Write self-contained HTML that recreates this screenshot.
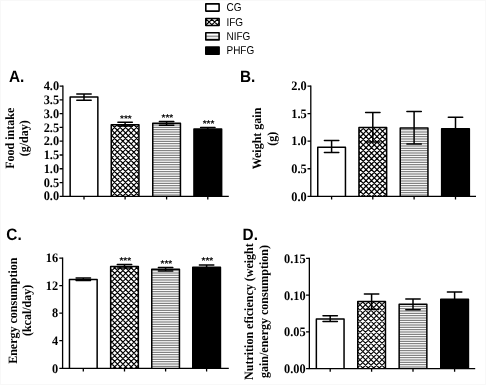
<!DOCTYPE html>
<html lang="en"><head><meta charset="utf-8"><title>Figure</title>
<style>html,body{margin:0;padding:0;background:#fff}body{width:486px;height:385px;overflow:hidden}svg{display:block}text{text-rendering:geometricPrecision}.tk{font-family:"Liberation Serif", "DejaVu Serif", serif;font-weight:bold;font-size:13px;fill:#000}.yl{font-family:"Liberation Serif", "DejaVu Serif", serif;font-weight:bold;font-size:12px;fill:#000}.pl{font-family:"Liberation Sans", "DejaVu Sans", sans-serif;font-weight:bold;font-size:16.5px;fill:#000}.lg{font-family:"Liberation Sans", "DejaVu Sans", sans-serif;font-size:11.4px;fill:#000}.st{font-family:"Liberation Sans", "DejaVu Sans", sans-serif;font-weight:bold;font-size:10px;fill:#000}</style></head><body>
<svg width="486" height="385" viewBox="0 0 486 385">
<rect width="486" height="385" fill="#fff"/>
<rect x="0.5" y="0.5" width="485" height="384" fill="none" stroke="#f8f8f8" stroke-width="1"/>
<rect x="205.8" y="3.9" width="13.30" height="7.20" fill="#fff" stroke="#000" stroke-width="1.6" stroke-linejoin="round"/>
<clipPath id="cl1"><rect x="205.80" y="18.50" width="13.30" height="7.00"/></clipPath>
<rect x="205.80" y="18.50" width="13.30" height="7.00" fill="#fff"/>
<path d="M198.15,16.50L209.15,27.50M203.65,16.50L214.65,27.50M209.15,16.50L220.15,27.50M214.65,16.50L225.65,27.50M209.15,16.50L198.15,27.50M214.65,16.50L203.65,27.50M220.15,16.50L209.15,27.50M225.65,16.50L214.65,27.50" stroke="#000" stroke-width="1.2" fill="none" clip-path="url(#cl1)"/>
<rect x="205.8" y="18.5" width="13.30" height="7.00" fill="none" stroke="#000" stroke-width="1.6" stroke-linejoin="round"/>
<rect x="205.8" y="32.7" width="13.30" height="7.20" fill="#fff"/>
<rect x="205.8" y="35.7" width="13.30" height="0.9" fill="#555"/>
<rect x="205.8" y="37.6" width="13.30" height="1.6" fill="#cfcfcf"/>
<rect x="205.8" y="32.7" width="13.30" height="7.20" fill="none" stroke="#000" stroke-width="1.6" stroke-linejoin="round"/>
<rect x="205.8" y="47.1" width="13.30" height="7.20" fill="#000" stroke="#000" stroke-width="1.6" stroke-linejoin="round"/>
<text transform="translate(226.5,11.1) scale(0.875,1)" class="lg">CG</text>
<text transform="translate(226.5,25.5) scale(0.875,1)" class="lg">IFG</text>
<text transform="translate(226.5,39.9) scale(0.875,1)" class="lg">NIFG</text>
<text transform="translate(226.5,54.3) scale(0.875,1)" class="lg">PHFG</text>
<text transform="translate(8.9,81.8) scale(0.93,1)" class="pl">A.</text>
<text transform="translate(240.0,81.9) scale(0.93,1)" class="pl">B.</text>
<text transform="translate(6.3,239.6) scale(0.93,1)" class="pl">C.</text>
<text transform="translate(242.6,239.5) scale(0.93,1)" class="pl">D.</text>
<g id="A">
<path d="M70.15,196.30V97.12H97.85V196.30" fill="#fff" stroke="#000" stroke-width="1.5" stroke-linejoin="round"/>
<clipPath id="cl2"><rect x="111.25" y="124.67" width="27.70" height="71.63"/></clipPath>
<rect x="111.25" y="124.67" width="27.70" height="71.63" fill="#fff"/>
<path d="M38.37,122.67L114.00,198.30M43.87,122.67L119.50,198.30M49.37,122.67L125.00,198.30M54.87,122.67L130.50,198.30M60.37,122.67L136.00,198.30M65.87,122.67L141.50,198.30M71.37,122.67L147.00,198.30M76.87,122.67L152.50,198.30M82.37,122.67L158.00,198.30M87.87,122.67L163.50,198.30M93.37,122.67L169.00,198.30M98.87,122.67L174.50,198.30M104.37,122.67L180.00,198.30M109.87,122.67L185.50,198.30M115.37,122.67L191.00,198.30M120.87,122.67L196.50,198.30M126.37,122.67L202.00,198.30M131.87,122.67L207.50,198.30M113.83,122.67L38.20,198.30M119.33,122.67L43.70,198.30M124.83,122.67L49.20,198.30M130.33,122.67L54.70,198.30M135.83,122.67L60.20,198.30M141.33,122.67L65.70,198.30M146.83,122.67L71.20,198.30M152.33,122.67L76.70,198.30M157.83,122.67L82.20,198.30M163.33,122.67L87.70,198.30M168.83,122.67L93.20,198.30M174.33,122.67L98.70,198.30M179.83,122.67L104.20,198.30M185.33,122.67L109.70,198.30M190.83,122.67L115.20,198.30M196.33,122.67L120.70,198.30M201.83,122.67L126.20,198.30M207.33,122.67L131.70,198.30" stroke="#000" stroke-width="1.2" fill="none" clip-path="url(#cl2)"/>
<path d="M111.25,196.30V124.67H138.95V196.30" fill="none" stroke="#000" stroke-width="1.5" stroke-linejoin="round"/>
<rect x="152.75" y="123.29" width="27.70" height="73.01" fill="#fff"/>
<path d="M152.75,123.29H180.45V124.00H152.75ZM152.75,130.00H180.45V131.00H152.75ZM152.75,137.00H180.45V138.00H152.75ZM152.75,144.00H180.45V145.00H152.75ZM152.75,151.00H180.45V152.00H152.75ZM152.75,158.00H180.45V159.00H152.75ZM152.75,165.00H180.45V166.00H152.75ZM152.75,172.00H180.45V173.00H152.75ZM152.75,179.00H180.45V180.00H152.75ZM152.75,186.00H180.45V187.00H152.75ZM152.75,193.00H180.45V194.00H152.75Z" fill="#e6e6e6"/>
<path d="M152.75,124.00H180.45V125.00H152.75ZM152.75,125.00H180.45V126.00H152.75ZM152.75,131.00H180.45V132.00H152.75ZM152.75,132.00H180.45V133.00H152.75ZM152.75,138.00H180.45V139.00H152.75ZM152.75,139.00H180.45V140.00H152.75ZM152.75,145.00H180.45V146.00H152.75ZM152.75,146.00H180.45V147.00H152.75ZM152.75,152.00H180.45V153.00H152.75ZM152.75,153.00H180.45V154.00H152.75ZM152.75,159.00H180.45V160.00H152.75ZM152.75,160.00H180.45V161.00H152.75ZM152.75,166.00H180.45V167.00H152.75ZM152.75,167.00H180.45V168.00H152.75ZM152.75,173.00H180.45V174.00H152.75ZM152.75,174.00H180.45V175.00H152.75ZM152.75,180.00H180.45V181.00H152.75ZM152.75,181.00H180.45V182.00H152.75ZM152.75,187.00H180.45V188.00H152.75ZM152.75,188.00H180.45V189.00H152.75ZM152.75,194.00H180.45V195.00H152.75ZM152.75,195.00H180.45V196.00H152.75Z" fill="#b2b2b2"/>
<path d="M152.75,126.00H180.45V127.00H152.75ZM152.75,133.00H180.45V134.00H152.75ZM152.75,140.00H180.45V141.00H152.75ZM152.75,147.00H180.45V148.00H152.75ZM152.75,154.00H180.45V155.00H152.75ZM152.75,161.00H180.45V162.00H152.75ZM152.75,168.00H180.45V169.00H152.75ZM152.75,175.00H180.45V176.00H152.75ZM152.75,182.00H180.45V183.00H152.75ZM152.75,189.00H180.45V190.00H152.75ZM152.75,196.00H180.45V196.30H152.75Z" fill="#e4e4e4"/>
<path d="M152.75,127.00H180.45V128.00H152.75ZM152.75,134.00H180.45V135.00H152.75ZM152.75,141.00H180.45V142.00H152.75ZM152.75,148.00H180.45V149.00H152.75ZM152.75,155.00H180.45V156.00H152.75ZM152.75,162.00H180.45V163.00H152.75ZM152.75,169.00H180.45V170.00H152.75ZM152.75,176.00H180.45V177.00H152.75ZM152.75,183.00H180.45V184.00H152.75ZM152.75,190.00H180.45V191.00H152.75Z" fill="#828282"/>
<path d="M152.75,128.00H180.45V129.00H152.75ZM152.75,135.00H180.45V136.00H152.75ZM152.75,142.00H180.45V143.00H152.75ZM152.75,149.00H180.45V150.00H152.75ZM152.75,156.00H180.45V157.00H152.75ZM152.75,163.00H180.45V164.00H152.75ZM152.75,170.00H180.45V171.00H152.75ZM152.75,177.00H180.45V178.00H152.75ZM152.75,184.00H180.45V185.00H152.75ZM152.75,191.00H180.45V192.00H152.75Z" fill="#fafafa"/>
<path d="M152.75,129.00H180.45V130.00H152.75ZM152.75,136.00H180.45V137.00H152.75ZM152.75,143.00H180.45V144.00H152.75ZM152.75,150.00H180.45V151.00H152.75ZM152.75,157.00H180.45V158.00H152.75ZM152.75,164.00H180.45V165.00H152.75ZM152.75,171.00H180.45V172.00H152.75ZM152.75,178.00H180.45V179.00H152.75ZM152.75,185.00H180.45V186.00H152.75ZM152.75,192.00H180.45V193.00H152.75Z" fill="#848484"/>
<path d="M152.75,196.30V123.29H180.45V196.30" fill="none" stroke="#000" stroke-width="1.5" stroke-linejoin="round"/>
<path d="M193.95,196.30V129.08H221.65V196.30" fill="#000" stroke="#000" stroke-width="1.5" stroke-linejoin="round"/>
<path d="M76.80,94.10 H91.20 M84.00,94.10 V100.20 M76.80,100.20 H91.20" stroke="#000" stroke-width="1.5" fill="none" stroke-linecap="round"/>
<path d="M117.90,122.20 H132.30 M125.10,122.20 V126.10 M117.90,126.10 H132.30" stroke="#000" stroke-width="1.5" fill="none" stroke-linecap="round"/>
<path d="M159.40,121.40 H173.80 M166.60,121.40 V125.20 M159.40,125.20 H173.80" stroke="#000" stroke-width="1.5" fill="none" stroke-linecap="round"/>
<path d="M200.60,127.50 H215.00 M207.80,127.50 V129.70" stroke="#000" stroke-width="1.5" fill="none" stroke-linecap="round"/>
<path d="M62.9,85.45 V196.30 H228.8" stroke="#000" stroke-width="1.3" fill="none" stroke-linecap="butt"/>
<path d="M59.60,86.10 H62.9 M59.60,99.88 H62.9 M59.60,113.65 H62.9 M59.60,127.42 H62.9 M59.60,141.20 H62.9 M59.60,154.98 H62.9 M59.60,168.75 H62.9 M59.60,182.53 H62.9 M59.60,196.30 H62.9 M84.00,196.30 V199.50 M125.10,196.30 V199.50 M166.60,196.30 V199.50 M207.80,196.30 V199.50 " stroke="#000" stroke-width="1.3" fill="none"/>
<text transform="translate(59.10,90.25) scale(0.95,1)" text-anchor="end" class="tk">4.0</text>
<text transform="translate(59.10,104.03) scale(0.95,1)" text-anchor="end" class="tk">3.5</text>
<text transform="translate(59.10,117.80) scale(0.95,1)" text-anchor="end" class="tk">3.0</text>
<text transform="translate(59.10,131.57) scale(0.95,1)" text-anchor="end" class="tk">2.5</text>
<text transform="translate(59.10,145.35) scale(0.95,1)" text-anchor="end" class="tk">2.0</text>
<text transform="translate(59.10,159.13) scale(0.95,1)" text-anchor="end" class="tk">1.5</text>
<text transform="translate(59.10,172.90) scale(0.95,1)" text-anchor="end" class="tk">1.0</text>
<text transform="translate(59.10,186.68) scale(0.95,1)" text-anchor="end" class="tk">0.5</text>
<text transform="translate(59.10,200.45) scale(0.95,1)" text-anchor="end" class="tk">0.0</text>
<text x="125.85" y="122.00" text-anchor="middle" class="st">***</text>
<text x="167.35" y="120.90" text-anchor="middle" class="st">***</text>
<text x="208.55" y="127.10" text-anchor="middle" class="st">***</text>
</g>
<g id="B">
<path d="M317.75,196.30V147.26H345.45V196.30" fill="#fff" stroke="#000" stroke-width="1.5" stroke-linejoin="round"/>
<clipPath id="cl3"><rect x="358.95" y="127.42" width="27.70" height="68.88"/></clipPath>
<rect x="358.95" y="127.42" width="27.70" height="68.88" fill="#fff"/>
<path d="M288.82,125.42L361.70,198.30M294.32,125.42L367.20,198.30M299.82,125.42L372.70,198.30M305.32,125.42L378.20,198.30M310.82,125.42L383.70,198.30M316.32,125.42L389.20,198.30M321.82,125.42L394.70,198.30M327.32,125.42L400.20,198.30M332.82,125.42L405.70,198.30M338.32,125.42L411.20,198.30M343.82,125.42L416.70,198.30M349.32,125.42L422.20,198.30M354.82,125.42L427.70,198.30M360.32,125.42L433.20,198.30M365.82,125.42L438.70,198.30M371.32,125.42L444.20,198.30M376.82,125.42L449.70,198.30M382.32,125.42L455.20,198.30M366.27,125.42L293.40,198.30M371.77,125.42L298.90,198.30M377.27,125.42L304.40,198.30M382.77,125.42L309.90,198.30M388.28,125.42L315.40,198.30M393.78,125.42L320.90,198.30M399.28,125.42L326.40,198.30M404.78,125.42L331.90,198.30M410.28,125.42L337.40,198.30M415.78,125.42L342.90,198.30M421.28,125.42L348.40,198.30M426.78,125.42L353.90,198.30M432.28,125.42L359.40,198.30M437.78,125.42L364.90,198.30M443.28,125.42L370.40,198.30M448.78,125.42L375.90,198.30M454.28,125.42L381.40,198.30" stroke="#000" stroke-width="1.2" fill="none" clip-path="url(#cl3)"/>
<path d="M358.95,196.30V127.42H386.65V196.30" fill="none" stroke="#000" stroke-width="1.5" stroke-linejoin="round"/>
<rect x="400.25" y="127.98" width="27.70" height="68.32" fill="#fff"/>
<path d="M400.25,128.00H427.95V129.00H400.25ZM400.25,135.00H427.95V136.00H400.25ZM400.25,142.00H427.95V143.00H400.25ZM400.25,149.00H427.95V150.00H400.25ZM400.25,156.00H427.95V157.00H400.25ZM400.25,163.00H427.95V164.00H400.25ZM400.25,170.00H427.95V171.00H400.25ZM400.25,177.00H427.95V178.00H400.25ZM400.25,184.00H427.95V185.00H400.25ZM400.25,191.00H427.95V192.00H400.25Z" fill="#fafafa"/>
<path d="M400.25,129.00H427.95V130.00H400.25ZM400.25,136.00H427.95V137.00H400.25ZM400.25,143.00H427.95V144.00H400.25ZM400.25,150.00H427.95V151.00H400.25ZM400.25,157.00H427.95V158.00H400.25ZM400.25,164.00H427.95V165.00H400.25ZM400.25,171.00H427.95V172.00H400.25ZM400.25,178.00H427.95V179.00H400.25ZM400.25,185.00H427.95V186.00H400.25ZM400.25,192.00H427.95V193.00H400.25Z" fill="#848484"/>
<path d="M400.25,130.00H427.95V131.00H400.25ZM400.25,137.00H427.95V138.00H400.25ZM400.25,144.00H427.95V145.00H400.25ZM400.25,151.00H427.95V152.00H400.25ZM400.25,158.00H427.95V159.00H400.25ZM400.25,165.00H427.95V166.00H400.25ZM400.25,172.00H427.95V173.00H400.25ZM400.25,179.00H427.95V180.00H400.25ZM400.25,186.00H427.95V187.00H400.25ZM400.25,193.00H427.95V194.00H400.25Z" fill="#e6e6e6"/>
<path d="M400.25,131.00H427.95V132.00H400.25ZM400.25,132.00H427.95V133.00H400.25ZM400.25,138.00H427.95V139.00H400.25ZM400.25,139.00H427.95V140.00H400.25ZM400.25,145.00H427.95V146.00H400.25ZM400.25,146.00H427.95V147.00H400.25ZM400.25,152.00H427.95V153.00H400.25ZM400.25,153.00H427.95V154.00H400.25ZM400.25,159.00H427.95V160.00H400.25ZM400.25,160.00H427.95V161.00H400.25ZM400.25,166.00H427.95V167.00H400.25ZM400.25,167.00H427.95V168.00H400.25ZM400.25,173.00H427.95V174.00H400.25ZM400.25,174.00H427.95V175.00H400.25ZM400.25,180.00H427.95V181.00H400.25ZM400.25,181.00H427.95V182.00H400.25ZM400.25,187.00H427.95V188.00H400.25ZM400.25,188.00H427.95V189.00H400.25ZM400.25,194.00H427.95V195.00H400.25ZM400.25,195.00H427.95V196.00H400.25Z" fill="#b2b2b2"/>
<path d="M400.25,133.00H427.95V134.00H400.25ZM400.25,140.00H427.95V141.00H400.25ZM400.25,147.00H427.95V148.00H400.25ZM400.25,154.00H427.95V155.00H400.25ZM400.25,161.00H427.95V162.00H400.25ZM400.25,168.00H427.95V169.00H400.25ZM400.25,175.00H427.95V176.00H400.25ZM400.25,182.00H427.95V183.00H400.25ZM400.25,189.00H427.95V190.00H400.25ZM400.25,196.00H427.95V196.30H400.25Z" fill="#e4e4e4"/>
<path d="M400.25,134.00H427.95V135.00H400.25ZM400.25,141.00H427.95V142.00H400.25ZM400.25,148.00H427.95V149.00H400.25ZM400.25,155.00H427.95V156.00H400.25ZM400.25,162.00H427.95V163.00H400.25ZM400.25,169.00H427.95V170.00H400.25ZM400.25,176.00H427.95V177.00H400.25ZM400.25,183.00H427.95V184.00H400.25ZM400.25,190.00H427.95V191.00H400.25Z" fill="#828282"/>
<path d="M400.25,196.30V127.98H427.95V196.30" fill="none" stroke="#000" stroke-width="1.5" stroke-linejoin="round"/>
<path d="M441.65,196.30V128.80H469.35V196.30" fill="#000" stroke="#000" stroke-width="1.5" stroke-linejoin="round"/>
<path d="M324.40,140.60 H338.80 M331.60,140.60 V152.40 M324.40,152.40 H338.80" stroke="#000" stroke-width="1.5" fill="none" stroke-linecap="round"/>
<path d="M365.60,112.50 H380.00 M372.80,112.50 V142.10 M365.60,142.10 H380.00" stroke="#000" stroke-width="1.5" fill="none" stroke-linecap="round"/>
<path d="M406.90,111.60 H421.30 M414.10,111.60 V144.00 M406.90,144.00 H421.30" stroke="#000" stroke-width="1.5" fill="none" stroke-linecap="round"/>
<path d="M448.30,117.20 H462.70 M455.50,117.20 V130.00" stroke="#000" stroke-width="1.5" fill="none" stroke-linecap="round"/>
<path d="M310.8,85.45 V196.30 H476.0" stroke="#000" stroke-width="1.3" fill="none" stroke-linecap="butt"/>
<path d="M307.50,86.10 H310.8 M307.50,113.65 H310.8 M307.50,141.20 H310.8 M307.50,168.75 H310.8 M307.50,196.30 H310.8 M331.60,196.30 V199.50 M372.80,196.30 V199.50 M414.10,196.30 V199.50 M455.50,196.30 V199.50 " stroke="#000" stroke-width="1.3" fill="none"/>
<text transform="translate(306.70,90.25) scale(0.95,1)" text-anchor="end" class="tk">2.0</text>
<text transform="translate(306.70,117.80) scale(0.95,1)" text-anchor="end" class="tk">1.5</text>
<text transform="translate(306.70,145.35) scale(0.95,1)" text-anchor="end" class="tk">1.0</text>
<text transform="translate(306.70,172.90) scale(0.95,1)" text-anchor="end" class="tk">0.5</text>
<text transform="translate(306.70,200.85) scale(0.95,1)" text-anchor="end" class="tk">0.0</text>
</g>
<g id="C">
<path d="M69.45,368.35V279.51H97.15V368.35" fill="#fff" stroke="#000" stroke-width="1.5" stroke-linejoin="round"/>
<clipPath id="cl4"><rect x="110.65" y="266.45" width="27.70" height="101.90"/></clipPath>
<rect x="110.65" y="266.45" width="27.70" height="101.90" fill="#fff"/>
<path d="M6.79,264.45L112.69,370.35M12.29,264.45L118.19,370.35M17.79,264.45L123.69,370.35M23.29,264.45L129.19,370.35M28.79,264.45L134.69,370.35M34.29,264.45L140.19,370.35M39.79,264.45L145.69,370.35M45.29,264.45L151.19,370.35M50.79,264.45L156.69,370.35M56.29,264.45L162.19,370.35M61.79,264.45L167.69,370.35M67.29,264.45L173.19,370.35M72.79,264.45L178.69,370.35M78.29,264.45L184.19,370.35M83.79,264.45L189.69,370.35M89.29,264.45L195.19,370.35M94.79,264.45L200.69,370.35M100.29,264.45L206.19,370.35M105.79,264.45L211.69,370.35M111.29,264.45L217.19,370.35M116.79,264.45L222.69,370.35M122.29,264.45L228.19,370.35M127.79,264.45L233.69,370.35M133.29,264.45L239.19,370.35M118.05,264.45L12.15,370.35M123.55,264.45L17.65,370.35M129.05,264.45L23.15,370.35M134.55,264.45L28.65,370.35M140.05,264.45L34.15,370.35M145.55,264.45L39.65,370.35M151.05,264.45L45.15,370.35M156.55,264.45L50.65,370.35M162.05,264.45L56.15,370.35M167.55,264.45L61.65,370.35M173.05,264.45L67.15,370.35M178.55,264.45L72.65,370.35M184.05,264.45L78.15,370.35M189.55,264.45L83.65,370.35M195.05,264.45L89.15,370.35M200.55,264.45L94.65,370.35M206.05,264.45L100.15,370.35M211.55,264.45L105.65,370.35M217.05,264.45L111.15,370.35M222.55,264.45L116.65,370.35M228.05,264.45L122.15,370.35M233.55,264.45L127.65,370.35M239.05,264.45L133.15,370.35" stroke="#000" stroke-width="1.2" fill="none" clip-path="url(#cl4)"/>
<path d="M110.65,368.35V266.45H138.35V368.35" fill="none" stroke="#000" stroke-width="1.5" stroke-linejoin="round"/>
<rect x="151.75" y="269.20" width="27.70" height="99.15" fill="#fff"/>
<path d="M151.75,269.20H179.45V270.00H151.75ZM151.75,276.00H179.45V277.00H151.75ZM151.75,283.00H179.45V284.00H151.75ZM151.75,290.00H179.45V291.00H151.75ZM151.75,297.00H179.45V298.00H151.75ZM151.75,304.00H179.45V305.00H151.75ZM151.75,311.00H179.45V312.00H151.75ZM151.75,318.00H179.45V319.00H151.75ZM151.75,325.00H179.45V326.00H151.75ZM151.75,332.00H179.45V333.00H151.75ZM151.75,339.00H179.45V340.00H151.75ZM151.75,346.00H179.45V347.00H151.75ZM151.75,353.00H179.45V354.00H151.75ZM151.75,360.00H179.45V361.00H151.75ZM151.75,367.00H179.45V368.00H151.75Z" fill="#fafafa"/>
<path d="M151.75,270.00H179.45V271.00H151.75ZM151.75,277.00H179.45V278.00H151.75ZM151.75,284.00H179.45V285.00H151.75ZM151.75,291.00H179.45V292.00H151.75ZM151.75,298.00H179.45V299.00H151.75ZM151.75,305.00H179.45V306.00H151.75ZM151.75,312.00H179.45V313.00H151.75ZM151.75,319.00H179.45V320.00H151.75ZM151.75,326.00H179.45V327.00H151.75ZM151.75,333.00H179.45V334.00H151.75ZM151.75,340.00H179.45V341.00H151.75ZM151.75,347.00H179.45V348.00H151.75ZM151.75,354.00H179.45V355.00H151.75ZM151.75,361.00H179.45V362.00H151.75ZM151.75,368.00H179.45V368.35H151.75Z" fill="#848484"/>
<path d="M151.75,271.00H179.45V272.00H151.75ZM151.75,278.00H179.45V279.00H151.75ZM151.75,285.00H179.45V286.00H151.75ZM151.75,292.00H179.45V293.00H151.75ZM151.75,299.00H179.45V300.00H151.75ZM151.75,306.00H179.45V307.00H151.75ZM151.75,313.00H179.45V314.00H151.75ZM151.75,320.00H179.45V321.00H151.75ZM151.75,327.00H179.45V328.00H151.75ZM151.75,334.00H179.45V335.00H151.75ZM151.75,341.00H179.45V342.00H151.75ZM151.75,348.00H179.45V349.00H151.75ZM151.75,355.00H179.45V356.00H151.75ZM151.75,362.00H179.45V363.00H151.75Z" fill="#e6e6e6"/>
<path d="M151.75,272.00H179.45V273.00H151.75ZM151.75,273.00H179.45V274.00H151.75ZM151.75,279.00H179.45V280.00H151.75ZM151.75,280.00H179.45V281.00H151.75ZM151.75,286.00H179.45V287.00H151.75ZM151.75,287.00H179.45V288.00H151.75ZM151.75,293.00H179.45V294.00H151.75ZM151.75,294.00H179.45V295.00H151.75ZM151.75,300.00H179.45V301.00H151.75ZM151.75,301.00H179.45V302.00H151.75ZM151.75,307.00H179.45V308.00H151.75ZM151.75,308.00H179.45V309.00H151.75ZM151.75,314.00H179.45V315.00H151.75ZM151.75,315.00H179.45V316.00H151.75ZM151.75,321.00H179.45V322.00H151.75ZM151.75,322.00H179.45V323.00H151.75ZM151.75,328.00H179.45V329.00H151.75ZM151.75,329.00H179.45V330.00H151.75ZM151.75,335.00H179.45V336.00H151.75ZM151.75,336.00H179.45V337.00H151.75ZM151.75,342.00H179.45V343.00H151.75ZM151.75,343.00H179.45V344.00H151.75ZM151.75,349.00H179.45V350.00H151.75ZM151.75,350.00H179.45V351.00H151.75ZM151.75,356.00H179.45V357.00H151.75ZM151.75,357.00H179.45V358.00H151.75ZM151.75,363.00H179.45V364.00H151.75ZM151.75,364.00H179.45V365.00H151.75Z" fill="#b2b2b2"/>
<path d="M151.75,274.00H179.45V275.00H151.75ZM151.75,281.00H179.45V282.00H151.75ZM151.75,288.00H179.45V289.00H151.75ZM151.75,295.00H179.45V296.00H151.75ZM151.75,302.00H179.45V303.00H151.75ZM151.75,309.00H179.45V310.00H151.75ZM151.75,316.00H179.45V317.00H151.75ZM151.75,323.00H179.45V324.00H151.75ZM151.75,330.00H179.45V331.00H151.75ZM151.75,337.00H179.45V338.00H151.75ZM151.75,344.00H179.45V345.00H151.75ZM151.75,351.00H179.45V352.00H151.75ZM151.75,358.00H179.45V359.00H151.75ZM151.75,365.00H179.45V366.00H151.75Z" fill="#e4e4e4"/>
<path d="M151.75,275.00H179.45V276.00H151.75ZM151.75,282.00H179.45V283.00H151.75ZM151.75,289.00H179.45V290.00H151.75ZM151.75,296.00H179.45V297.00H151.75ZM151.75,303.00H179.45V304.00H151.75ZM151.75,310.00H179.45V311.00H151.75ZM151.75,317.00H179.45V318.00H151.75ZM151.75,324.00H179.45V325.00H151.75ZM151.75,331.00H179.45V332.00H151.75ZM151.75,338.00H179.45V339.00H151.75ZM151.75,345.00H179.45V346.00H151.75ZM151.75,352.00H179.45V353.00H151.75ZM151.75,359.00H179.45V360.00H151.75ZM151.75,366.00H179.45V367.00H151.75Z" fill="#828282"/>
<path d="M151.75,368.35V269.20H179.45V368.35" fill="none" stroke="#000" stroke-width="1.5" stroke-linejoin="round"/>
<path d="M192.75,368.35V267.14H220.45V368.35" fill="#000" stroke="#000" stroke-width="1.5" stroke-linejoin="round"/>
<path d="M76.10,278.10 H90.50 M83.30,278.10 V280.40 M76.10,280.40 H90.50" stroke="#000" stroke-width="1.5" fill="none" stroke-linecap="round"/>
<path d="M117.30,264.40 H131.70 M124.50,264.40 V268.00 M117.30,268.00 H131.70" stroke="#000" stroke-width="1.5" fill="none" stroke-linecap="round"/>
<path d="M158.40,267.50 H172.80 M165.60,267.50 V271.10 M158.40,271.10 H172.80" stroke="#000" stroke-width="1.5" fill="none" stroke-linecap="round"/>
<path d="M199.40,265.10 H213.80 M206.60,265.10 V268.00" stroke="#000" stroke-width="1.5" fill="none" stroke-linecap="round"/>
<path d="M62.6,257.55 V368.35 H228.8" stroke="#000" stroke-width="1.3" fill="none" stroke-linecap="butt"/>
<path d="M59.30,258.20 H62.6 M59.30,285.70 H62.6 M59.30,313.20 H62.6 M59.30,340.70 H62.6 M59.30,368.35 H62.6 M83.30,368.35 V371.55 M124.50,368.35 V371.55 M165.60,368.35 V371.55 M206.60,368.35 V371.55 " stroke="#000" stroke-width="1.3" fill="none"/>
<text transform="translate(58.20,262.35) scale(0.95,1)" text-anchor="end" class="tk">16</text>
<text transform="translate(58.20,289.85) scale(0.95,1)" text-anchor="end" class="tk">12</text>
<text transform="translate(58.20,317.35) scale(0.95,1)" text-anchor="end" class="tk">8</text>
<text transform="translate(58.20,344.85) scale(0.95,1)" text-anchor="end" class="tk">4</text>
<text transform="translate(58.20,373.10) scale(0.95,1)" text-anchor="end" class="tk">0</text>
<text x="125.25" y="263.90" text-anchor="middle" class="st">***</text>
<text x="166.35" y="267.20" text-anchor="middle" class="st">***</text>
<text x="207.35" y="264.30" text-anchor="middle" class="st">***</text>
</g>
<g id="D">
<path d="M316.35,368.60V319.03H344.05V368.60" fill="#fff" stroke="#000" stroke-width="1.5" stroke-linejoin="round"/>
<clipPath id="cl5"><rect x="357.75" y="301.41" width="27.70" height="67.19"/></clipPath>
<rect x="357.75" y="301.41" width="27.70" height="67.19" fill="#fff"/>
<path d="M288.66,299.41L359.85,370.60M294.16,299.41L365.35,370.60M299.66,299.41L370.85,370.60M305.16,299.41L376.35,370.60M310.66,299.41L381.85,370.60M316.16,299.41L387.35,370.60M321.66,299.41L392.85,370.60M327.16,299.41L398.35,370.60M332.66,299.41L403.85,370.60M338.16,299.41L409.35,370.60M343.66,299.41L414.85,370.60M349.16,299.41L420.35,370.60M354.66,299.41L425.85,370.60M360.16,299.41L431.35,370.60M365.66,299.41L436.85,370.60M371.16,299.41L442.35,370.60M376.66,299.41L447.85,370.60M382.16,299.41L453.35,370.60M359.84,299.41L288.65,370.60M365.34,299.41L294.15,370.60M370.84,299.41L299.65,370.60M376.34,299.41L305.15,370.60M381.84,299.41L310.65,370.60M387.34,299.41L316.15,370.60M392.84,299.41L321.65,370.60M398.34,299.41L327.15,370.60M403.84,299.41L332.65,370.60M409.34,299.41L338.15,370.60M414.84,299.41L343.65,370.60M420.34,299.41L349.15,370.60M425.84,299.41L354.65,370.60M431.34,299.41L360.15,370.60M436.84,299.41L365.65,370.60M442.34,299.41L371.15,370.60M447.84,299.41L376.65,370.60M453.34,299.41L382.15,370.60" stroke="#000" stroke-width="1.2" fill="none" clip-path="url(#cl5)"/>
<path d="M357.75,368.60V301.41H385.45V368.60" fill="none" stroke="#000" stroke-width="1.5" stroke-linejoin="round"/>
<rect x="399.15" y="304.20" width="27.70" height="64.40" fill="#fff"/>
<path d="M399.15,304.20H426.85V305.00H399.15ZM399.15,310.00H426.85V311.00H399.15ZM399.15,311.00H426.85V312.00H399.15ZM399.15,317.00H426.85V318.00H399.15ZM399.15,318.00H426.85V319.00H399.15ZM399.15,324.00H426.85V325.00H399.15ZM399.15,325.00H426.85V326.00H399.15ZM399.15,331.00H426.85V332.00H399.15ZM399.15,332.00H426.85V333.00H399.15ZM399.15,338.00H426.85V339.00H399.15ZM399.15,339.00H426.85V340.00H399.15ZM399.15,345.00H426.85V346.00H399.15ZM399.15,346.00H426.85V347.00H399.15ZM399.15,352.00H426.85V353.00H399.15ZM399.15,353.00H426.85V354.00H399.15ZM399.15,359.00H426.85V360.00H399.15ZM399.15,360.00H426.85V361.00H399.15ZM399.15,366.00H426.85V367.00H399.15ZM399.15,367.00H426.85V368.00H399.15Z" fill="#b2b2b2"/>
<path d="M399.15,305.00H426.85V306.00H399.15ZM399.15,312.00H426.85V313.00H399.15ZM399.15,319.00H426.85V320.00H399.15ZM399.15,326.00H426.85V327.00H399.15ZM399.15,333.00H426.85V334.00H399.15ZM399.15,340.00H426.85V341.00H399.15ZM399.15,347.00H426.85V348.00H399.15ZM399.15,354.00H426.85V355.00H399.15ZM399.15,361.00H426.85V362.00H399.15ZM399.15,368.00H426.85V368.60H399.15Z" fill="#e4e4e4"/>
<path d="M399.15,306.00H426.85V307.00H399.15ZM399.15,313.00H426.85V314.00H399.15ZM399.15,320.00H426.85V321.00H399.15ZM399.15,327.00H426.85V328.00H399.15ZM399.15,334.00H426.85V335.00H399.15ZM399.15,341.00H426.85V342.00H399.15ZM399.15,348.00H426.85V349.00H399.15ZM399.15,355.00H426.85V356.00H399.15ZM399.15,362.00H426.85V363.00H399.15Z" fill="#828282"/>
<path d="M399.15,307.00H426.85V308.00H399.15ZM399.15,314.00H426.85V315.00H399.15ZM399.15,321.00H426.85V322.00H399.15ZM399.15,328.00H426.85V329.00H399.15ZM399.15,335.00H426.85V336.00H399.15ZM399.15,342.00H426.85V343.00H399.15ZM399.15,349.00H426.85V350.00H399.15ZM399.15,356.00H426.85V357.00H399.15ZM399.15,363.00H426.85V364.00H399.15Z" fill="#fafafa"/>
<path d="M399.15,308.00H426.85V309.00H399.15ZM399.15,315.00H426.85V316.00H399.15ZM399.15,322.00H426.85V323.00H399.15ZM399.15,329.00H426.85V330.00H399.15ZM399.15,336.00H426.85V337.00H399.15ZM399.15,343.00H426.85V344.00H399.15ZM399.15,350.00H426.85V351.00H399.15ZM399.15,357.00H426.85V358.00H399.15ZM399.15,364.00H426.85V365.00H399.15Z" fill="#848484"/>
<path d="M399.15,309.00H426.85V310.00H399.15ZM399.15,316.00H426.85V317.00H399.15ZM399.15,323.00H426.85V324.00H399.15ZM399.15,330.00H426.85V331.00H399.15ZM399.15,337.00H426.85V338.00H399.15ZM399.15,344.00H426.85V345.00H399.15ZM399.15,351.00H426.85V352.00H399.15ZM399.15,358.00H426.85V359.00H399.15ZM399.15,365.00H426.85V366.00H399.15Z" fill="#e6e6e6"/>
<path d="M399.15,368.60V304.20H426.85V368.60" fill="none" stroke="#000" stroke-width="1.5" stroke-linejoin="round"/>
<path d="M440.75,368.60V299.21H468.45V368.60" fill="#000" stroke="#000" stroke-width="1.5" stroke-linejoin="round"/>
<path d="M323.00,315.80 H337.40 M330.20,315.80 V321.50 M323.00,321.50 H337.40" stroke="#000" stroke-width="1.5" fill="none" stroke-linecap="round"/>
<path d="M364.40,293.90 H378.80 M371.60,293.90 V309.40 M364.40,309.40 H378.80" stroke="#000" stroke-width="1.5" fill="none" stroke-linecap="round"/>
<path d="M405.80,299.00 H420.20 M413.00,299.00 V309.70 M405.80,309.70 H420.20" stroke="#000" stroke-width="1.5" fill="none" stroke-linecap="round"/>
<path d="M447.40,291.90 H461.80 M454.60,291.90 V300.00" stroke="#000" stroke-width="1.5" fill="none" stroke-linecap="round"/>
<path d="M309.35,257.80 V368.60 H475.2" stroke="#000" stroke-width="1.3" fill="none" stroke-linecap="butt"/>
<path d="M306.05,258.45 H309.35 M306.05,295.17 H309.35 M306.05,331.88 H309.35 M306.05,368.60 H309.35 M330.20,368.60 V371.80 M371.60,368.60 V371.80 M413.00,368.60 V371.80 M454.60,368.60 V371.80 " stroke="#000" stroke-width="1.3" fill="none"/>
<text transform="translate(305.60,262.80) scale(0.95,1)" text-anchor="end" class="tk">0.15</text>
<text transform="translate(305.60,299.52) scale(0.95,1)" text-anchor="end" class="tk">0.10</text>
<text transform="translate(305.60,336.23) scale(0.95,1)" text-anchor="end" class="tk">0.05</text>
<text transform="translate(305.60,373.45) scale(0.95,1)" text-anchor="end" class="tk">0.00</text>
</g>
<text transform="translate(14.0,138.3) rotate(-90) scale(1,1.06)" text-anchor="middle" class="yl">Food intake</text>
<text transform="translate(28.4,138.3) rotate(-90) scale(1,1.06)" text-anchor="middle" class="yl">(g/day)</text>
<text transform="translate(261.0,138.5) rotate(-90) scale(1,1.06)" text-anchor="middle" class="yl">Weight gain</text>
<text transform="translate(275.5,138.7) rotate(-90) scale(1,1.06)" text-anchor="middle" class="yl">(g)</text>
<text transform="translate(16.8,310.7) rotate(-90) scale(1,1.06)" text-anchor="middle" class="yl">Energy consumption</text>
<text transform="translate(30.9,310.4) rotate(-90) scale(1,1.06)" text-anchor="middle" class="yl">(kcal/day)</text>
<text transform="translate(253.4,311.6) rotate(-90) scale(1,1.06)" text-anchor="middle" class="yl">Nutrition eficiency (weight</text>
<text transform="translate(268.2,311.5) rotate(-90) scale(1,1.06)" text-anchor="middle" class="yl">gain/energy consumption)</text>
</svg></body></html>
